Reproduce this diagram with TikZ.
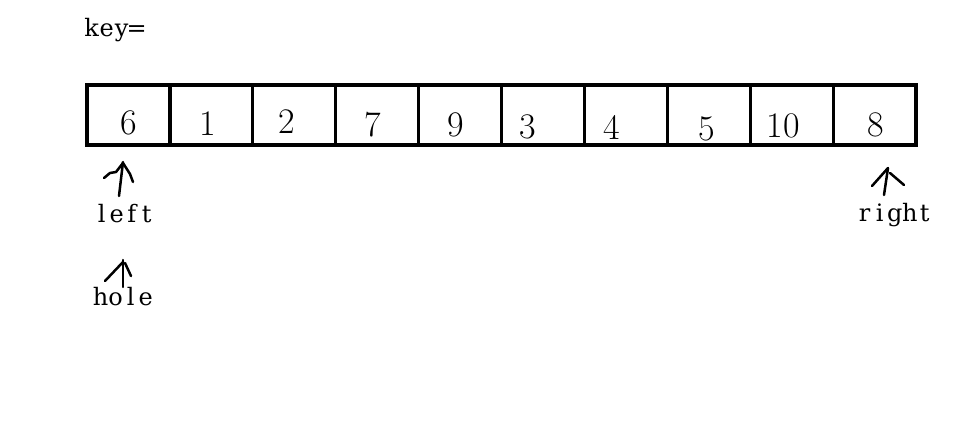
\documentclass[tikz,border=0pt]{standalone}
\usepackage{fontspec}
\newfontfamily\labfont{DejaVu Serif}
\def\monoloop#1{\ifx#1\relax\else\makebox[15pt]{#1}\expandafter\monoloop\fi}
\newcommand\monotext[1]{\monoloop#1\relax}
\begin{document}
\begin{tikzpicture}[x=1pt,y=-1pt,
  cell/.style={draw=black,line width=3.2pt,minimum width=82.9pt,minimum height=60pt,inner sep=0pt,outer sep=0pt},
  num/.style={anchor=base,inner sep=0pt,font=\fontsize{36}{40}\selectfont},
  lab/.style={anchor=base west,inner sep=0pt,font=\labfont\fontsize{24}{28}\selectfont},
  hand/.style={line width=2.5pt,line cap=round,line join=round}]
\useasboundingbox[fill=white] (0,0) rectangle (963,427);
% cells
\foreach \i in {0,...,9}{
  \node[cell] (c\i) at ({87+82.9*(\i+0.5)},115) {};
}
% numbers
\node[num] (n0) at (129,135) {6};
\node[num] (n1) at (208,136) {1};
\node[num] (n2) at (287,134) {2};
\node[num] (n3) at (373,137) {7};
\node[num] (n4) at (456,137) {9};
\node[num] (n5) at (528,139) {3};
\node[num] (n6) at (612,140) {4};
\node[num] (n7) at (707,141) {5};
\node[num] (n8) at (783,138) {10};
\node[num] (n9) at (876,137) {8};
% labels
\node[lab] (key) at (84,37) {\monotext{key=}};
\node[lab] (left) at (94,223) {\monotext{left}};
\node[lab] (hole) at (93,306) {\monotext{hole}};
\node[lab] (right) at (857,222) {\monotext{right}};
% hand-drawn arrows
\draw[hand] (119,196) -- (123,162);
\draw[hand] (104,178) -- (110,173) -- (116,172) -- (123,163) -- (130,174) -- (133,182);
\draw[hand] (123,287) -- (123,260);
\draw[hand] (105,281) -- (123,262);
\draw[hand] (125,263) -- (131,276);
\draw[hand] (884,195) -- (888,168);
\draw[hand] (872,186) -- (888,168);
\draw[hand] (890,173) -- (904,185);
\end{tikzpicture}
\end{document}
